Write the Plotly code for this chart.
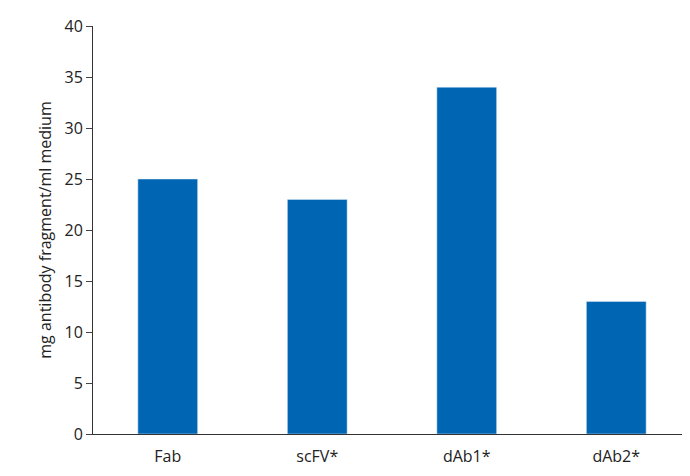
import plotly.graph_objects as go

categories = ["Fab", "scFV*", "dAb1*", "dAb2*"]
values = [25, 23, 34, 13]

fig = go.Figure(go.Bar(x=categories, y=values, marker_color="#0066b3", width=0.4))
fig.update_layout(
    width=690, height=476, plot_bgcolor="white", paper_bgcolor="white",
    margin=dict(l=85, r=7, t=18, b=50),
    font=dict(family="Open Sans", size=16, color="#222"),
    showlegend=False,
)
fig.update_yaxes(range=[0, 40], dtick=5, showline=True, linecolor="#333", ticks="outside",
                 ticklen=6, showgrid=False, title_text="mg antibody fragment/ml medium",
                 title_font_size=16, title_standoff=8)
fig.update_xaxes(showline=True, linecolor="#333", ticks="outside", ticklen=8,
                 tickcolor="rgba(0,0,0,0)", showgrid=False)
fig.write_html("out.html")
